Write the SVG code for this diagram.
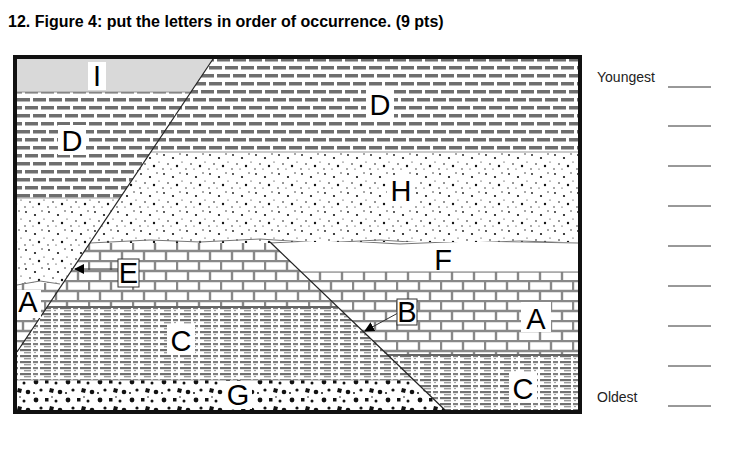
<svg xmlns="http://www.w3.org/2000/svg" width="750" height="450" viewBox="0 0 750 450">
<style>
.lbl{font-family:"Liberation Sans",Arial,sans-serif;font-size:29px;fill:#000;text-anchor:middle}
.bg{fill:#fff}
.side{font-family:"Liberation Sans",Arial,sans-serif;font-size:14px;fill:#222}
.blank{stroke:#333;stroke-width:1}
.fault{stroke:#222;stroke-width:1.2;fill:none}
</style>
<defs>
<pattern id="shale" width="32" height="16" patternUnits="userSpaceOnUse">
<rect width="32" height="16" fill="#fff"/>
<rect x="1" y="2" width="13" height="3.5" fill="#6e6e6e"/><rect x="17" y="2" width="13" height="3.5" fill="#6e6e6e"/>
<rect x="9" y="10" width="13" height="3.5" fill="#6e6e6e"/><rect x="25" y="10" width="7" height="3.5" fill="#6e6e6e"/><rect x="0" y="10" width="6" height="3.5" fill="#6e6e6e"/>
</pattern>
<pattern id="sand" width="23" height="19" patternUnits="userSpaceOnUse">
<rect width="23" height="19" fill="#fff"/>
<g fill="#111"><circle cx="3" cy="3" r="0.9"/><circle cx="12" cy="6" r="1.1"/><circle cx="19" cy="2" r="0.7"/><circle cx="7" cy="12" r="0.8"/><circle cx="16" cy="14" r="1.2"/><circle cx="2" cy="17" r="0.7"/><circle cx="21" cy="10" r="0.6"/><circle cx="10" cy="17" r="0.6"/></g>
</pattern>
<pattern id="brick" width="44" height="20" patternUnits="userSpaceOnUse">
<rect width="44" height="20" fill="#fff"/>
<g stroke="#888" stroke-width="2.4"><line x1="0" y1="1" x2="44" y2="1"/><line x1="0" y1="11" x2="44" y2="11"/>
<line x1="1" y1="1" x2="1" y2="11"/><line x1="23" y1="1" x2="23" y2="11"/><line x1="12" y1="11" x2="12" y2="21"/><line x1="34" y1="11" x2="34" y2="21"/></g>
</pattern>
<pattern id="silt" width="20" height="6" patternUnits="userSpaceOnUse">
<rect width="20" height="6" fill="#fff"/>
<rect x="0" y="1" width="11" height="2.2" fill="#707070"/><rect x="13" y="1" width="5" height="2.2" fill="#808080"/>
<rect x="4" y="4" width="7" height="1.4" fill="#999"/><circle cx="15" cy="4.6" r="0.7" fill="#444"/>
</pattern>
<pattern id="congl" width="32" height="18" patternUnits="userSpaceOnUse">
<rect width="32" height="18" fill="#fff"/>
<g fill="#111"><circle cx="4" cy="4" r="2.4"/><rect x="13" y="2" width="3.5" height="3.5"/><circle cx="24" cy="5" r="1.5"/><circle cx="9" cy="12" r="1.6"/><path d="M18 10 l4 1 -1 4 -4 -1z"/><circle cx="28" cy="14" r="2.3"/><circle cx="2" cy="15" r="1"/><circle cx="20" cy="1" r="0.8"/></g>
</pattern>
<clipPath id="cl"><polygon points="17,59 213,59 17,352"/></clipPath>
<clipPath id="cm"><polygon points="213,59 578,59 578,242 270,242 445,410 17,410 17,352"/></clipPath>
<clipPath id="cr"><polygon points="270,242 578,242 578,410 445,410"/></clipPath>
<marker id="ah" markerWidth="10" markerHeight="10" refX="9" refY="5" orient="auto" markerUnits="userSpaceOnUse"><path d="M0,0 L10,5 L0,10 z" fill="#000"/></marker>
</defs>
<rect width="750" height="450" fill="#fff"/>
<text x="8" y="27" style="font-family:'Liberation Sans',Arial,sans-serif;font-size:16px;font-weight:bold">12.  Figure 4: put the letters in order of occurrence. (9 pts)</text>

<g id="block-left" clip-path="url(#cl)">
<rect x="17" y="59" width="200" height="33" fill="#d9d9d9"/>
<rect x="17" y="92" width="200" height="106" fill="url(#shale)"/>
<rect x="17" y="198" width="200" height="85" fill="url(#sand)"/>
<rect x="17" y="283" width="200" height="70" fill="url(#brick)"/>
<line x1="17" y1="92" x2="217" y2="92" stroke="#999"/>
<line x1="17" y1="198" x2="217" y2="198" stroke="#999"/>
<path d="M17 285 L40 281 L60 284" stroke="#777" fill="none"/>
</g>
<g id="block-middle" clip-path="url(#cm)">
<rect x="17" y="59" width="561" height="93" fill="url(#shale)"/>
<rect x="17" y="152" width="561" height="92" fill="url(#sand)"/>
<rect x="17" y="243" width="561" height="64" fill="url(#brick)"/>
<rect x="17" y="307" width="561" height="73" fill="url(#silt)"/>
<rect x="17" y="380" width="561" height="30" fill="url(#congl)"/>
<line x1="17" y1="152" x2="578" y2="152" stroke="#999"/>
<path d="M90 243 L150 240 L200 242 L260 239 L320 243 L380 240 L440 244 L520 241 L578 243" stroke="#777" fill="none"/>
<line x1="17" y1="307" x2="578" y2="307" stroke="#666" stroke-width="2"/>
<line x1="17" y1="380" x2="578" y2="380" stroke="#999"/>
</g>
<g id="block-right" clip-path="url(#cr)">
<rect x="270" y="243" width="308" height="29" fill="#fff"/>
<rect x="270" y="272" width="308" height="83" fill="url(#brick)"/>
<rect x="270" y="355" width="308" height="55" fill="url(#silt)"/>
<line x1="270" y1="272" x2="578" y2="272" stroke="#777"/>
<line x1="270" y1="355" x2="578" y2="355" stroke="#666" stroke-width="2"/>
<path d="M270 243 L330 240 L400 244 L470 241 L578 243" stroke="#777" fill="none"/>
</g>
<g id="connectors">
<line class="fault" x1="213" y1="59" x2="17" y2="352"/>
<line class="fault" x1="270" y1="242" x2="445" y2="410"/>
<line x1="118" y1="269" x2="75" y2="269" stroke="#333" marker-end="url(#ah)"/>
<line x1="398" y1="313" x2="365" y2="331" stroke="#333" marker-end="url(#ah)"/>
</g>
<rect x="15" y="57" width="565" height="355" fill="none" stroke="#111" stroke-width="4"/>

<g id="labels">
<rect class="bg" x="88" y="62" width="18" height="28"/><text class="lbl" x="97" y="86">I</text>
<rect class="bg" x="58" y="125" width="28" height="30"/><text class="lbl" x="72" y="151">D</text>
<rect class="bg" x="366" y="90" width="28" height="30"/><text class="lbl" x="380" y="115">D</text>
<rect class="bg" x="387" y="176" width="28" height="30"/><text class="lbl" x="401" y="201">H</text>
<text class="lbl" x="443" y="270">F</text>
<g id="node-E"><rect x="118" y="259" width="21" height="28" fill="#fff" stroke="#333"/><text class="lbl" x="128.5" y="283">E</text></g>
<rect class="bg" x="17" y="290" width="24" height="28"/><text class="lbl" x="28" y="312">A</text>
<g id="node-B"><rect x="397" y="299" width="20" height="26" fill="#fff" stroke="#333"/><text class="lbl" x="407" y="322">B</text></g>
<rect class="bg" x="521" y="302" width="30" height="30"/><text class="lbl" x="536" y="329">A</text>
<rect class="bg" x="167" y="325" width="28" height="30"/><text class="lbl" x="181" y="351">C</text>
<rect class="bg" x="509" y="373" width="28" height="30"/><text class="lbl" x="523" y="399">C</text>
<rect class="bg" x="224" y="381" width="28" height="28"/><text class="lbl" x="238" y="405">G</text>
</g>
<g id="answer-list">
<text class="side" x="597" y="82">Youngest</text>
<text class="side" x="597" y="402">Oldest</text>
<line class="blank" x1="668" y1="87" x2="711" y2="87"/>
<line class="blank" x1="668" y1="126" x2="711" y2="126"/>
<line class="blank" x1="668" y1="166" x2="711" y2="166"/>
<line class="blank" x1="668" y1="206" x2="711" y2="206"/>
<line class="blank" x1="668" y1="246" x2="711" y2="246"/>
<line class="blank" x1="668" y1="286" x2="711" y2="286"/>
<line class="blank" x1="668" y1="326" x2="711" y2="326"/>
<line class="blank" x1="668" y1="366" x2="711" y2="366"/>
<line class="blank" x1="668" y1="406" x2="711" y2="406"/>
</g>
</svg>
